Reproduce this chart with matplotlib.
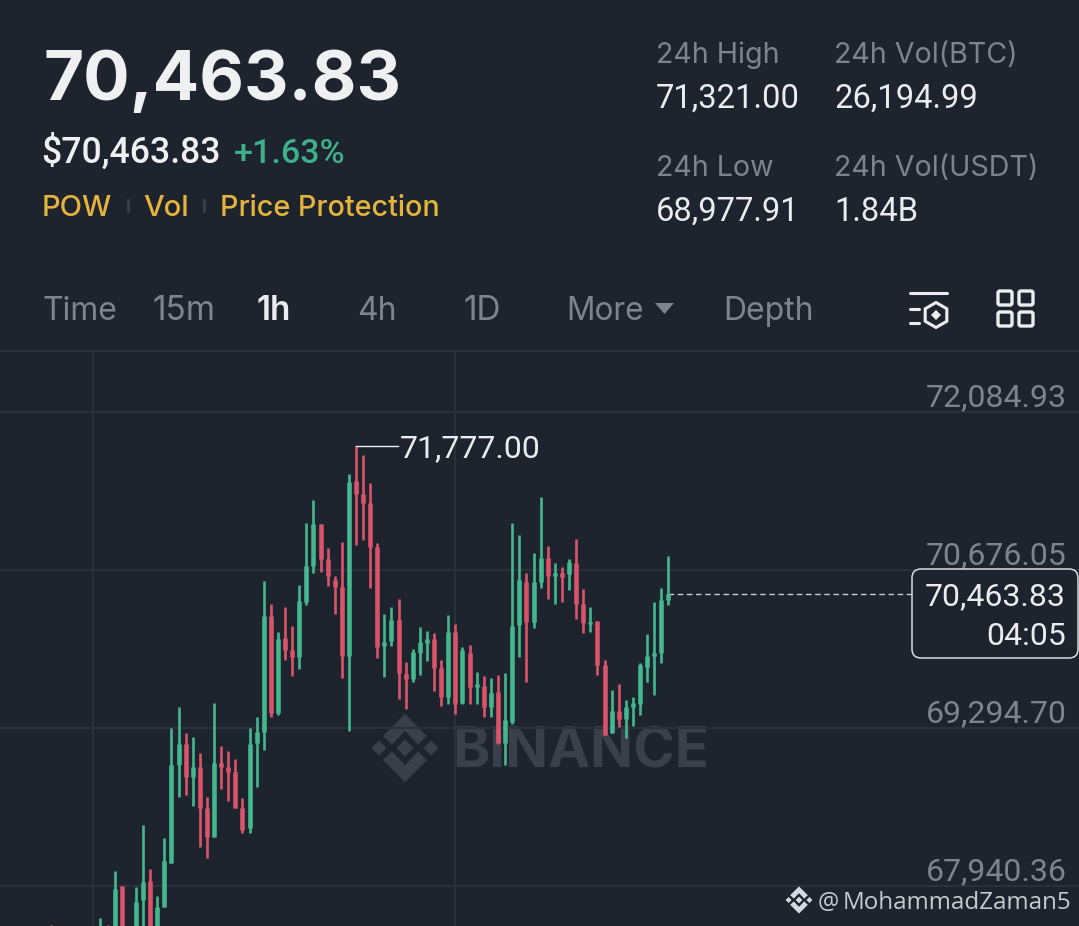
import numpy as np
import matplotlib
matplotlib.use("Agg")
import matplotlib.pyplot as plt
from matplotlib.patches import Polygon, FancyBboxPatch, RegularPolygon

n = float('nan')
candle_index = list(range(88))
opens = [67560,n,n,n,n,n,n,67400,67560,67600,67941,n,67550,67821,67984,67550,67761,68138,68978,69158,68875,68961,68609,68361,68995,68961,68918,68609,
 68438,69166,69261,70274,69426,70082,69977,69916,70396,70712,71086,70774,70589,70527,69924,71470,71354,71274,70881,70012,70055,70239,69767,69723,69951,70038,70073,69819,
 69566,70134,69514,69951,69653,69662,69479,69610,69166,69347,70195,70571,70222,70571,70783,70624,70650,70641,70738,70379,70204,70230,69846,69252,69444,69374,69479,69505,69828,69924,69951,70414]
closes = [67400,n,n,n,n,n,n,67560,67400,67915,67600,n,67804,67975,67600,67761,68155,68978,69158,68875,68961,68609,68361,68995,68961,68918,68609,68421,
 69158,69261,70274,69426,70073,69977,69916,70405,70712,71086,70774,70624,70527,69924,71461,71354,71274,70881,70003,70047,70239,69776,69723,69959,70047,70073,69819,69566,
 70134,69505,69977,69653,69680,69479,69601,69166,69365,70187,70589,70222,70571,70783,70624,70650,70615,70747,70379,70213,70222,69846,69235,69444,69374,69479,69514,69846,69924,69951,70414,70466]
highs = [67607,n,n,n,n,n,n,67667,67607,68069,67941,n,67932,68464,68087,67855,68352,69295,69479,69252,69218,69081,68704,69514,69141,69098,69029,68695,
 69295,69391,70580,70379,70134,70353,70187,70545,71095,71300,71086,70872,70624,70926,71532,71777,71702,71452,70917,70291,70353,70423,69872,69986,70178,70143,70125,69889,
 70283,70204,70003,70020,69784,69750,69732,69758,69776,71095,70988,70650,70828,71327,70890,70738,70703,70774,70953,70510,70353,70230,69889,69627,69680,69540,69566,69863,70117,70396,70519,70801]
lows = [67350,n,n,n,n,n,n,67350,67350,67550,67550,n,67500,67600,67550,67500,67761,68138,68704,68721,68627,68275,68181,68361,68772,68669,68609,68395,
 68395,68789,69106,69391,69409,69889,69750,69811,70370,70650,70659,70536,70291,69732,69269,70899,70944,70519,69907,69741,70012,69549,69461,69697,69758,69881,69618,69487,
 69505,69418,69505,69505,69505,69391,69391,69158,68978,69330,69916,69697,70169,70519,70423,70379,70396,70501,70248,70125,70134,69758,69235,69252,69304,69209,69313,69409,69697,69584,69863,70370]

axis_values = [72084.93, 70676.05, 69294.70, 67940.36]
axis_labels = ['72,084.93', '70,676.05', '69,294.70', '67,940.36']
time_grid = [6, 57]
last_price = 70463.83
high_price = 71777.00
high_index = 43
high_label = '71,777.00'

BG = '#1e242e'
GRID = '#2b313b'
GREEN = '#45b78f'
RED = '#d9546a'
GREY = '#7e848d'
WHITE = '#eaecef'
GOLD = '#e6b43c'
FONT = ['Inter', 'DejaVu Sans']
NUM = ['Roboto', 'DejaVu Sans']
NUMSIZE = 23

fig = plt.figure(figsize=(10.79, 9.26), dpi=100, facecolor=BG)
W, H = 1079.0, 926.0

def pixel_axes(z):
    a = fig.add_axes([0, 0, 1, 1], zorder=z)
    a.set_xlim(0, W); a.set_ylim(H, 0); a.axis('off'); a.patch.set_alpha(0)
    return a

under = pixel_axes(0)
top = pixel_axes(3)

# candle chart
ax = fig.add_axes([0, 0, 1, (H - 352) / H], zorder=1)
ax.patch.set_alpha(0)
for s in ax.spines.values():
    s.set_visible(False)
ax.set_yscale('log')
step = 7.1
x0 = 50.7
ax.set_xlim(-x0 / step, (W - x0) / step)
ratio = axis_values[0] / axis_values[3]
ax.set_ylim(axis_values[3] * ratio ** (-40 / 474), axis_values[0] * ratio ** (60 / 474))
ax.set_xticks([]); ax.set_yticks([]); ax.minorticks_off()

for v in axis_values:
    ax.axhline(v, color=GRID, lw=1.5, zorder=1)
for t in time_grid:
    ax.axvline(t, color=GRID, lw=1.5, zorder=1)

idx = np.array(candle_index, dtype=float)
o, c, h, l = map(np.array, (opens, closes, highs, lows))
col = [GREEN if cc >= oo else RED for oo, cc in zip(o, c)]
ax.vlines(idx, l, h, colors=col, lw=1.9, zorder=3, capstyle='butt')
ax.vlines(idx, np.minimum(o, c), np.maximum(o, c), colors=col, lw=3.3, zorder=3, capstyle='butt')

# last price dashed line
ax.plot([candle_index[-1], (912 - x0) / step], [last_price, last_price], color='#c9ccd1', lw=1.0,
        dashes=(4, 2.6), zorder=2)

# high marker
ax.plot([high_index, high_index + 42 / step], [high_price, high_price], color=WHITE, lw=1.0, zorder=4)
ax.annotate(high_label, xy=(high_index + 43.5 / step, high_price), xytext=(0, -8.0), textcoords='offset points',
            color=WHITE, fontsize=NUMSIZE, family=NUM, ha='left', va='baseline')

# axis labels
for v, lab in zip(axis_values, axis_labels):
    ax.annotate(lab, xy=(1, v), xycoords=('axes fraction', 'data'), xytext=(-9.0, 4.3),
                textcoords='offset points', color=GREY, fontsize=NUMSIZE, family=NUM, ha='right', va='baseline')

def logo(a, cx, cy, s, color, z=1):
    def P(pts):
        a.add_patch(Polygon([(cx + s * x, cy + s * y) for x, y in pts], closed=True, fc=color, ec='none', zorder=z))
    for dx, dy, r in [(0, 0, 8.5), (-26, 0, 7.5), (26, 0, 7.5)]:
        P([(dx - r, dy), (dx, dy - r), (dx + r, dy), (dx, dy + r)])
    P([(0, -34), (22, -12), (13, -3.5), (0, -17), (-13, -3.5), (-22, -12)])
    P([(0, 34), (22, 12), (13, 3.5), (0, 17), (-13, 3.5), (-22, 12)])

WM = '#3a404a'
logo(under, 405, 748, 1.0, WM)
under.text(452, 767, 'BINANCE', color=WM, fontsize=40.5, fontweight='bold', family=FONT, ha='left', va='baseline')


def T(x, y, s, color=WHITE, size=20, weight='normal', ha='left', fam=FONT):
    top.text(x, y, s, color=color, fontsize=size, fontweight=weight, ha=ha, va='baseline', family=fam)

# header
T(43, 100, '70,463.83', '#eff0f2', 49.7, 'bold')
T(41, 163, '$70,463.83', '#eff0f2', 25.7, 'medium', fam=NUM)
T(234, 163, '+1.63%', '#3fb18a', 24.5, 'medium', fam=NUM)
T(42, 216, 'POW', GOLD, 21, 'medium')
T(143, 216, 'Vol', GOLD, 21, 'medium')
T(220, 216, 'Price Protection', GOLD, 20.7, 'medium')
for xs in (128, 204):
    top.plot([xs, xs], [200, 211], color='#3a404a', lw=2)

T(656, 63, '24h High', GREY, 20.6)
T(656, 108, '71,321.00', WHITE, 23.6, fam=NUM)
T(656, 176, '24h Low', GREY, 20.6)
T(656, 221, '68,977.91', WHITE, 23.6, fam=NUM)
T(834, 63, '24h Vol(BTC)', GREY, 20.6)
T(834, 108, '26,194.99', WHITE, 23.6, fam=NUM)
T(834, 176, '24h Vol(USDT)', GREY, 20.6)
T(834, 221, '1.84B', WHITE, 23.6, fam=NUM)

# tabs
T(42, 320, 'Time', GREY, 23)
T(152, 320, '15m', GREY, 24)
T(257, 320, '1h', WHITE, 24, 'semibold')
T(357, 320, '4h', GREY, 23)
T(463, 320, '1D', GREY, 24)
T(566, 320, 'More', GREY, 22.7)
top.add_patch(Polygon([(655, 303), (674, 303), (664.5, 314)], closed=True, fc=GREY, ec='none'))
T(723, 320, 'Depth', GREY, 23)
top.plot([0, W], [351, 351], color=GRID, lw=1.6)

# icons
IC = '#eceef0'
top.plot([910, 947], [293, 293], color=IC, lw=2.2, solid_capstyle='round')
top.plot([910, 919], [309, 309], color=IC, lw=2.2, solid_capstyle='round')
top.plot([910, 919], [323, 323], color=IC, lw=2.2, solid_capstyle='round')
top.add_patch(RegularPolygon((936, 315), 6, radius=12.5, fc='none', ec=IC, lw=2.2))
top.add_patch(Polygon([(931, 315), (936, 310), (941, 315), (936, 320)], closed=True, fc=IC, ec='none'))
for xb in (998, 1019):
    for yb in (291, 312):
        top.add_patch(FancyBboxPatch((xb, yb), 14, 14, boxstyle='round,pad=0,rounding_size=2',
                                     fc='none', ec=IC, lw=2.4))

# price box
top.add_patch(FancyBboxPatch((912, 569), 166, 89, boxstyle='round,pad=0,rounding_size=9',
                             fc=BG, ec='#d8dadd', lw=1.1, zorder=2))
T(1066, 605, '70,463.83', WHITE, NUMSIZE, ha='right', fam=NUM)
T(1066, 645, '04:05', WHITE, NUMSIZE, ha='right', fam=NUM)

# credit
logo(top, 799, 900, 0.40, '#d8dadd', z=3)
T(818, 909, '@', '#c8cace', 17, fam=['Open Sans', 'DejaVu Sans'])
T(843, 909, 'MohammadZaman5', '#c8cace', 17.4, fam=['Open Sans', 'DejaVu Sans'])

fig.savefig('out.png', dpi=100, facecolor=BG)
